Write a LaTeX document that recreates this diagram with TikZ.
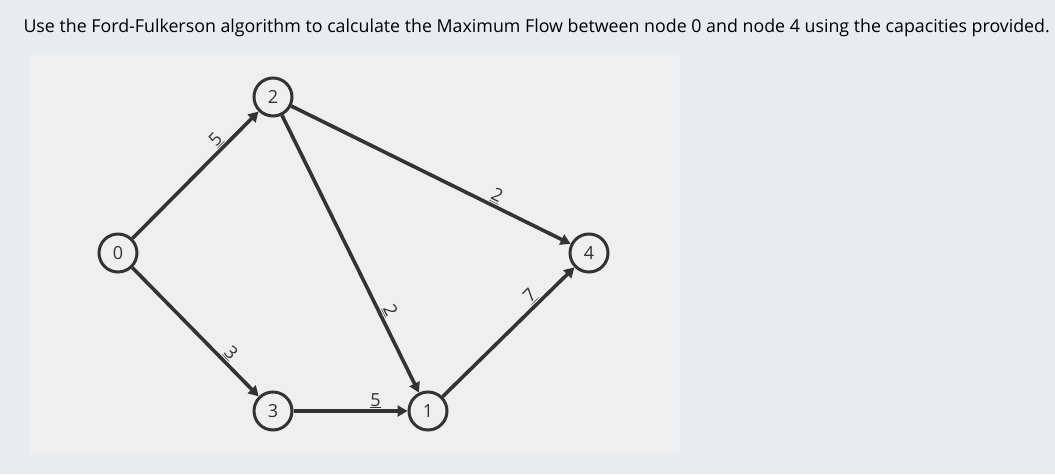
\documentclass[tikz,border=0pt]{standalone}
\usepackage{fontspec}
\setmainfont{Open Sans}
\usetikzlibrary{arrows.meta}
\definecolor{bg}{HTML}{E9ECEE}
\definecolor{panel}{HTML}{EFEFEF}
\definecolor{ink}{HTML}{333333}
\begin{document}
\begin{tikzpicture}[x=1pt,y=-1pt,
  vert/.style={circle,draw=ink,line width=3pt,fill=panel,minimum size=38pt,inner sep=0pt,font=\fontsize{18}{20}\selectfont,text=ink},
  edge/.style={draw=ink,line width=3.6pt,-{Triangle[length=10pt,width=11pt]}},
  caplabel/.style={sloped,above,pos=0.72,font=\fontsize{18}{20}\selectfont,text=ink,inner sep=1pt}]
\fill[bg] (0,0) rectangle (1055,474);
\useasboundingbox (0,0) rectangle (1055,474);
\fill[panel] (30,55) rectangle (680,455);
\node[anchor=west,font=\fontsize{17.8}{20}\selectfont,text=black] (t) at (20,28) {Use the Ford-Fulkerson algorithm to calculate the Maximum Flow between node 0 and node 4 using the capacities provided.};
\node[vert] (n0) at (118,253) {0};
\node[vert] (n2) at (273,97) {2};
\node[vert] (n4) at (589,253) {4};
\node[vert] (n3) at (273,411) {3};
\node[vert] (n1) at (428,411) {1};
\draw[edge] (n0) -- node[caplabel]{\underline{5}} (n2);
\draw[edge] (n0) -- node[caplabel]{\underline{3}} (n3);
\draw[edge] (n2) -- node[caplabel]{\underline{2}} (n4);
\draw[edge] (n2) -- node[caplabel]{\underline{2}} (n1);
\draw[edge] (n3) -- node[caplabel]{\underline{5}} (n1);
\draw[edge] (n1) -- node[caplabel]{\underline{7}} (n4);
\end{tikzpicture}
\end{document}
